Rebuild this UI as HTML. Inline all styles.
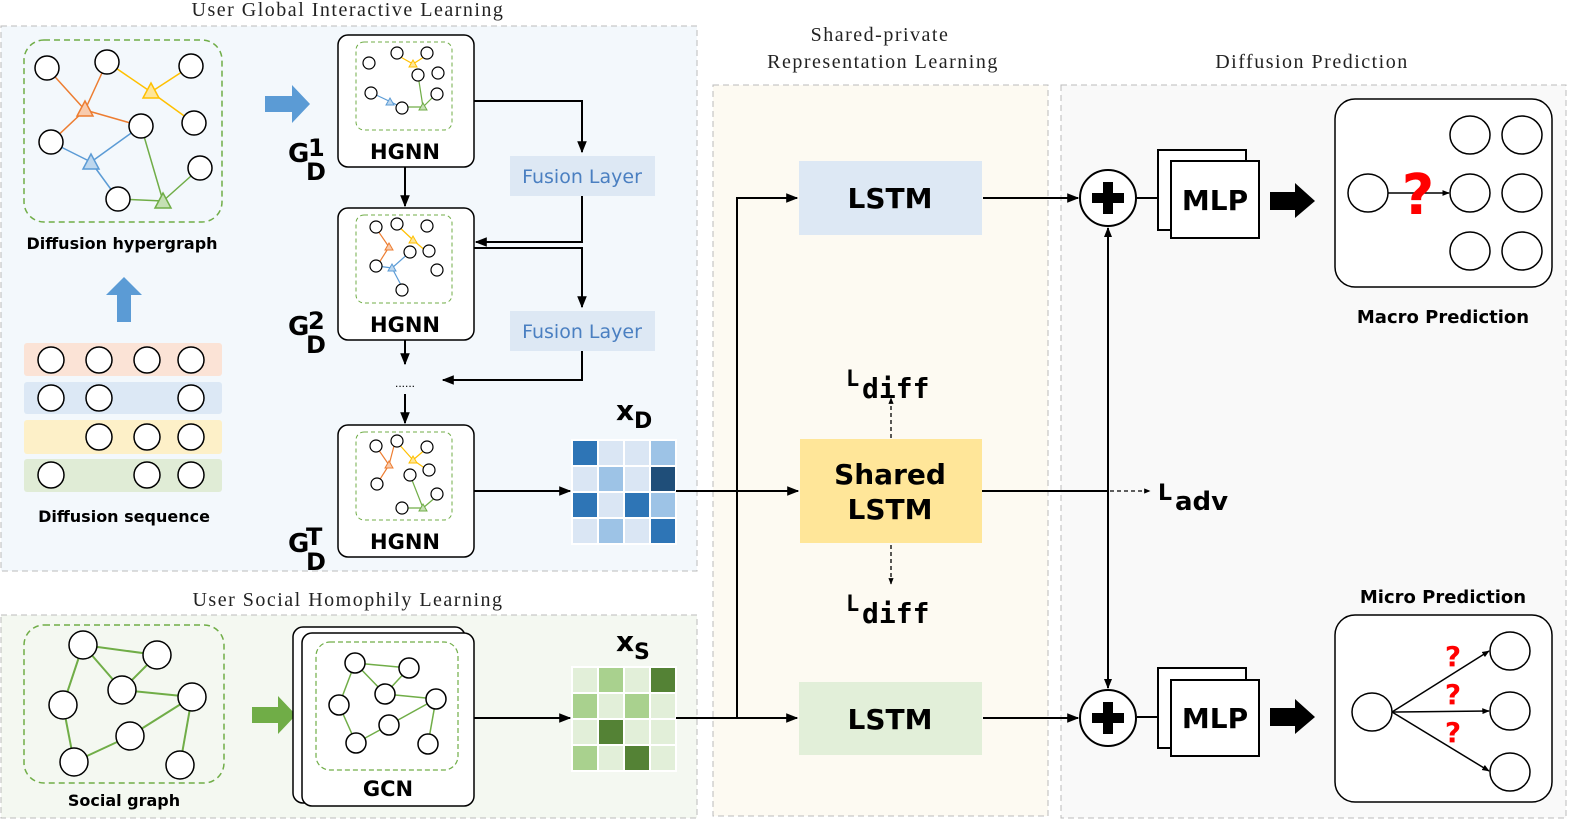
<!DOCTYPE html>
<html><head><meta charset="utf-8"><style>
html,body{margin:0;padding:0;background:#fff;}
svg{display:block;}
.t{font-family:"Liberation Serif",serif;font-size:20px;letter-spacing:1.5px;fill:#222;}
.b{font-family:"DejaVu Sans","Liberation Sans",sans-serif;font-weight:bold;fill:#000;}
.n{fill:#fff;stroke:#000;stroke-width:1.5;}
</style></head><body>
<svg width="1572" height="823" viewBox="0 0 1572 823" xmlns="http://www.w3.org/2000/svg">
<defs>
<marker id="a" viewBox="0 0 10 10" refX="9" refY="5" markerWidth="6" markerHeight="6" orient="auto"><path d="M0,1 L10,5 L0,9 z" fill="#000"/></marker>
<marker id="s" viewBox="0 0 10 10" refX="9" refY="5" markerWidth="5" markerHeight="5" orient="auto-start-reverse"><path d="M0,1 L10,5 L0,9 z" fill="#000"/></marker>
</defs>
<rect x="1" y="26" width="696" height="545" fill="#f3f8fc" stroke="#bbb" stroke-dasharray="6,4"/>
<rect x="1" y="615" width="696" height="203" fill="#f4f8f1" stroke="#bbb" stroke-dasharray="6,4"/>
<rect x="713" y="85" width="335" height="731" fill="#fdfaf2" stroke="#bbb" stroke-dasharray="6,4"/>
<rect x="1061" y="85" width="505" height="733" fill="#f9f9f9" stroke="#bbb" stroke-dasharray="6,4"/>
<text class="t" x="348" y="16" text-anchor="middle">User Global Interactive Learning</text>
<text class="t" x="348" y="606" text-anchor="middle">User Social Homophily Learning</text>
<text class="t" x="880" y="41" text-anchor="middle">Shared-private</text>
<text class="t" x="883" y="68" text-anchor="middle">Representation Learning</text>
<text class="t" x="1312" y="68" text-anchor="middle">Diffusion Prediction</text>

<rect x="24" y="40" width="198" height="182" rx="20" fill="none" stroke="#70ad47" stroke-width="1.5" stroke-dasharray="6,4"/>
<g stroke-width="1.5">
<g stroke="#ed7d31"><line x1="85" y1="110" x2="47" y2="68"/><line x1="85" y1="110" x2="107" y2="62"/><line x1="85" y1="110" x2="51" y2="142"/><line x1="85" y1="110" x2="141" y2="126"/></g>
<g stroke="#ffc000"><line x1="151" y1="92" x2="107" y2="62"/><line x1="151" y1="92" x2="191" y2="66"/><line x1="151" y1="92" x2="194" y2="123"/></g>
<g stroke="#5b9bd5"><line x1="91" y1="162" x2="51" y2="142"/><line x1="91" y1="162" x2="141" y2="126"/><line x1="91" y1="162" x2="118" y2="199"/></g>
<g stroke="#70ad47"><line x1="163" y1="201" x2="118" y2="199"/><line x1="163" y1="201" x2="200" y2="168"/><line x1="163" y1="201" x2="141" y2="126"/></g>
</g>
<polygon points="85,101 93,116 77,116" fill="#f8cbad" stroke="#ed7d31" stroke-width="1.5"/>
<polygon points="151,83 159,98 143,98" fill="#ffe699" stroke="#ffc000" stroke-width="1.5"/>
<polygon points="91,154 99,169 83,169" fill="#bdd7ee" stroke="#5b9bd5" stroke-width="1.5"/>
<polygon points="163,193 171,208 155,208" fill="#c5e0b4" stroke="#70ad47" stroke-width="1.5"/>
<g class="n"><circle cx="47" cy="68" r="12"/><circle cx="107" cy="62" r="12"/><circle cx="191" cy="66" r="12"/><circle cx="194" cy="123" r="12"/><circle cx="51" cy="142" r="12"/><circle cx="141" cy="126" r="12"/><circle cx="200" cy="168" r="12"/><circle cx="118" cy="199" r="12"/></g>
<text class="b" x="122" y="249" font-size="16" text-anchor="middle">Diffusion hypergraph</text>
<polygon points="124,277 142,295 131,295 131,322 117,322 117,295 106,295" fill="#5b9bd5"/>
<rect x="24" y="343" width="198" height="33" rx="3" fill="#fbe3d6"/>
<rect x="24" y="382" width="198" height="32" rx="3" fill="#dce8f5"/>
<rect x="24" y="420" width="198" height="34" rx="3" fill="#fdf0c8"/>
<rect x="24" y="459" width="198" height="33" rx="3" fill="#e0ecd6"/>
<g class="n">
<circle cx="51" cy="360" r="13"/><circle cx="99" cy="360" r="13"/><circle cx="147" cy="360" r="13"/><circle cx="191" cy="360" r="13"/>
<circle cx="51" cy="398" r="13"/><circle cx="99" cy="398" r="13"/><circle cx="191" cy="398" r="13"/>
<circle cx="99" cy="437" r="13"/><circle cx="147" cy="437" r="13"/><circle cx="191" cy="437" r="13"/>
<circle cx="51" cy="475" r="13"/><circle cx="147" cy="475" r="13"/><circle cx="191" cy="475" r="13"/>
</g>
<text class="b" x="124" y="522" font-size="16" text-anchor="middle">Diffusion sequence</text>
<polygon points="265,96 292,96 292,85 310,104 292,123 292,112 265,112" fill="#5b9bd5"/>

<rect x="338" y="35" width="136" height="132" rx="10" fill="#fff" stroke="#000" stroke-width="1.5"/>
<rect x="356" y="42" width="96" height="88" rx="8" fill="none" stroke="#70ad47" stroke-dasharray="4,3"/>
<g stroke-width="1.2">
<line x1="397" y1="55" x2="413" y2="64" stroke="#ffc000"/><line x1="427" y1="55" x2="413" y2="64" stroke="#ffc000"/>
<line x1="372" y1="93" x2="391" y2="102" stroke="#5b9bd5"/><line x1="391" y1="102" x2="401" y2="107" stroke="#5b9bd5"/>
<line x1="401" y1="107" x2="423" y2="107" stroke="#70ad47"/><line x1="423" y1="107" x2="436" y2="94" stroke="#70ad47"/><line x1="423" y1="107" x2="418" y2="75" stroke="#70ad47"/>
</g>
<polygon points="413,60 417,67 409,67" fill="#ffe699" stroke="#ffc000"/>
<polygon points="390,98 394,105 386,105" fill="#bdd7ee" stroke="#5b9bd5"/>
<polygon points="423,103 427,110 419,110" fill="#c5e0b4" stroke="#70ad47"/>
<g class="n" style="stroke-width:1.2"><circle cx="369" cy="63" r="6"/><circle cx="397" cy="53" r="6"/><circle cx="427" cy="53" r="6"/><circle cx="418" cy="75" r="6"/><circle cx="438" cy="73" r="6"/><circle cx="371" cy="93" r="6"/><circle cx="437" cy="94" r="6"/><circle cx="402" cy="108" r="6"/></g>
<text class="b" x="405" y="159" font-size="21" text-anchor="middle">HGNN</text>

<rect x="338" y="208" width="136" height="132" rx="10" fill="#fff" stroke="#000" stroke-width="1.5"/>
<rect x="356" y="215" width="96" height="88" rx="8" fill="none" stroke="#70ad47" stroke-dasharray="4,3"/>
<g stroke-width="1.2">
<line x1="376" y1="228" x2="389" y2="247" stroke="#ed7d31"/><line x1="389" y1="247" x2="377" y2="266" stroke="#ed7d31"/>
<line x1="397" y1="225" x2="413" y2="240" stroke="#ffc000"/><line x1="413" y1="240" x2="427" y2="252" stroke="#ffc000"/>
<line x1="377" y1="266" x2="392" y2="268" stroke="#5b9bd5"/><line x1="392" y1="268" x2="410" y2="252" stroke="#5b9bd5"/><line x1="392" y1="268" x2="401" y2="285" stroke="#5b9bd5"/>
</g>
<polygon points="389,243 393,250 385,250" fill="#f8cbad" stroke="#ed7d31"/>
<polygon points="413,236 417,243 409,243" fill="#ffe699" stroke="#ffc000"/>
<polygon points="392,264 396,271 388,271" fill="#bdd7ee" stroke="#5b9bd5"/>
<g class="n" style="stroke-width:1.2"><circle cx="376" cy="227" r="6"/><circle cx="397" cy="224" r="6"/><circle cx="427" cy="226" r="6"/><circle cx="429" cy="251" r="6"/><circle cx="410" cy="252" r="6"/><circle cx="437" cy="270" r="6"/><circle cx="376" cy="266" r="6"/><circle cx="402" cy="290" r="6"/></g>
<text class="b" x="405" y="332" font-size="21" text-anchor="middle">HGNN</text>

<rect x="338" y="425" width="136" height="132" rx="10" fill="#fff" stroke="#000" stroke-width="1.5"/>
<rect x="356" y="432" width="96" height="88" rx="8" fill="none" stroke="#70ad47" stroke-dasharray="4,3"/>
<g stroke-width="1.2">
<line x1="376" y1="446" x2="389" y2="465" stroke="#ed7d31"/><line x1="389" y1="465" x2="377" y2="484" stroke="#ed7d31"/><line x1="389" y1="465" x2="395" y2="442" stroke="#ed7d31"/>
<line x1="397" y1="442" x2="413" y2="460" stroke="#ffc000"/><line x1="427" y1="448" x2="413" y2="460" stroke="#ffc000"/><line x1="413" y1="460" x2="429" y2="471" stroke="#ffc000"/>
<line x1="402" y1="508" x2="423" y2="508" stroke="#70ad47"/><line x1="423" y1="508" x2="437" y2="496" stroke="#70ad47"/><line x1="423" y1="508" x2="410" y2="475" stroke="#70ad47"/>
</g>
<polygon points="389,461 393,468 385,468" fill="#f8cbad" stroke="#ed7d31"/>
<polygon points="413,456 417,463 409,463" fill="#ffe699" stroke="#ffc000"/>
<polygon points="423,504 427,511 419,511" fill="#c5e0b4" stroke="#70ad47"/>
<g class="n" style="stroke-width:1.2"><circle cx="376" cy="446" r="6"/><circle cx="397" cy="441" r="6"/><circle cx="427" cy="447" r="6"/><circle cx="429" cy="470" r="6"/><circle cx="410" cy="475" r="6"/><circle cx="437" cy="494" r="6"/><circle cx="377" cy="484" r="6"/><circle cx="402" cy="508" r="6"/></g>
<text class="b" x="405" y="549" font-size="21" text-anchor="middle">HGNN</text>

<g font-family="DejaVu Sans,sans-serif" font-weight="bold" fill="#000">
<text x="288" y="162" font-size="26">G</text><text x="306" y="180" font-size="24">D</text><text x="308" y="156" font-size="24">1</text>
<text x="288" y="335" font-size="26">G</text><text x="306" y="353" font-size="24">D</text><text x="308" y="329" font-size="24">2</text>
<text x="288" y="552" font-size="26">G</text><text x="306" y="570" font-size="24">D</text><text x="306" y="545" font-size="24">T</text>
</g>

<g stroke="#000" stroke-width="2" fill="none">
<polyline points="474,101 582,101 582,152" marker-end="url(#a)"/>
<polyline points="582,196 582,242 476,242" marker-end="url(#a)"/>
<polyline points="474,248 582,248 582,307" marker-end="url(#a)"/>
<polyline points="582,351 582,380 443,380" marker-end="url(#a)"/>
<line x1="405" y1="167" x2="405" y2="206" marker-end="url(#a)"/>
<line x1="405" y1="340" x2="405" y2="364" marker-end="url(#a)"/>
<line x1="405" y1="394" x2="405" y2="423" marker-end="url(#a)"/>
<line x1="474" y1="491" x2="570" y2="491" marker-end="url(#a)"/>
<line x1="474" y1="718" x2="570" y2="718" marker-end="url(#a)"/>
</g>
<text x="405" y="387" font-size="12" text-anchor="middle" font-family="Liberation Sans">......</text>
<rect x="510" y="156" width="145" height="40" fill="#dde8f4"/>
<text x="582" y="183" font-size="19" text-anchor="middle" fill="#4a7fc1" font-family="DejaVu Sans,sans-serif">Fusion Layer</text>
<rect x="510" y="311" width="145" height="40" fill="#dde8f4"/>
<text x="582" y="338" font-size="19" text-anchor="middle" fill="#4a7fc1" font-family="DejaVu Sans,sans-serif">Fusion Layer</text>

<g stroke="#fff" stroke-width="2">
<rect x="572" y="440" width="26" height="26" fill="#2e75b6"/><rect x="598" y="440" width="26" height="26" fill="#dae6f4"/><rect x="624" y="440" width="26" height="26" fill="#dae6f4"/><rect x="650" y="440" width="26" height="26" fill="#9dc3e6"/>
<rect x="572" y="466" width="26" height="26" fill="#dae6f4"/><rect x="598" y="466" width="26" height="26" fill="#9dc3e6"/><rect x="624" y="466" width="26" height="26" fill="#dae6f4"/><rect x="650" y="466" width="26" height="26" fill="#1f4e79"/>
<rect x="572" y="492" width="26" height="26" fill="#2e75b6"/><rect x="598" y="492" width="26" height="26" fill="#dae6f4"/><rect x="624" y="492" width="26" height="26" fill="#2e75b6"/><rect x="650" y="492" width="26" height="26" fill="#9dc3e6"/>
<rect x="572" y="518" width="26" height="26" fill="#dae6f4"/><rect x="598" y="518" width="26" height="26" fill="#9dc3e6"/><rect x="624" y="518" width="26" height="26" fill="#dae6f4"/><rect x="650" y="518" width="26" height="26" fill="#2e75b6"/>
</g>
<g font-family="DejaVu Sans,sans-serif" font-weight="bold">
<text x="616" y="420" font-size="28">x</text><text x="634" y="428" font-size="22">D</text>
<text x="616" y="651" font-size="28">x</text><text x="634" y="659" font-size="22">S</text>
</g>

<rect x="24" y="625" width="200" height="158" rx="20" fill="none" stroke="#70ad47" stroke-width="1.5" stroke-dasharray="6,4"/>
<g stroke="#70ad47" stroke-width="2">
<line x1="83" y1="645" x2="157" y2="655"/><line x1="83" y1="645" x2="122" y2="690"/><line x1="83" y1="645" x2="63" y2="705"/><line x1="157" y1="655" x2="122" y2="690"/><line x1="122" y1="690" x2="192" y2="697"/><line x1="63" y1="705" x2="74" y2="762"/><line x1="74" y1="762" x2="130" y2="736"/><line x1="130" y1="736" x2="192" y2="697"/><line x1="192" y1="697" x2="180" y2="765"/>
</g>
<g class="n"><circle cx="83" cy="645" r="14"/><circle cx="157" cy="655" r="14"/><circle cx="122" cy="690" r="14"/><circle cx="63" cy="705" r="14"/><circle cx="192" cy="697" r="14"/><circle cx="130" cy="736" r="14"/><circle cx="74" cy="762" r="14"/><circle cx="180" cy="765" r="14"/></g>
<text class="b" x="124" y="806" font-size="16" text-anchor="middle">Social graph</text>
<polygon points="252,707 278,707 278,696 296,715 278,734 278,723 252,723" fill="#70ad47"/>
<rect x="293" y="627" width="172" height="176" rx="10" fill="#fff" stroke="#000" stroke-width="1.5"/>
<rect x="302" y="633" width="172" height="173" rx="10" fill="#fff" stroke="#000" stroke-width="1.5"/>
<rect x="316" y="642" width="142" height="128" rx="14" fill="none" stroke="#70ad47" stroke-width="1.2" stroke-dasharray="5,3"/>
<g stroke="#70ad47" stroke-width="1.5">
<line x1="355" y1="663" x2="409" y2="668"/><line x1="355" y1="663" x2="385" y2="694"/><line x1="355" y1="663" x2="339" y2="705"/><line x1="409" y1="668" x2="385" y2="694"/><line x1="385" y1="694" x2="436" y2="699"/><line x1="339" y1="705" x2="356" y2="743"/><line x1="356" y1="743" x2="389" y2="725"/><line x1="389" y1="725" x2="436" y2="699"/><line x1="436" y1="699" x2="428" y2="744"/>
</g>
<g class="n"><circle cx="355" cy="663" r="10"/><circle cx="409" cy="668" r="10"/><circle cx="385" cy="694" r="10"/><circle cx="339" cy="705" r="10"/><circle cx="436" cy="699" r="10"/><circle cx="389" cy="725" r="10"/><circle cx="356" cy="743" r="10"/><circle cx="428" cy="744" r="10"/></g>
<text class="b" x="388" y="796" font-size="21" text-anchor="middle">GCN</text>

<g stroke="#fff" stroke-width="2">
<rect x="572" y="667" width="26" height="26" fill="#e2efd9"/><rect x="598" y="667" width="26" height="26" fill="#a9d18e"/><rect x="624" y="667" width="26" height="26" fill="#e2efd9"/><rect x="650" y="667" width="26" height="26" fill="#548235"/>
<rect x="572" y="693" width="26" height="26" fill="#a9d18e"/><rect x="598" y="693" width="26" height="26" fill="#e2efd9"/><rect x="624" y="693" width="26" height="26" fill="#a9d18e"/><rect x="650" y="693" width="26" height="26" fill="#e2efd9"/>
<rect x="572" y="719" width="26" height="26" fill="#e2efd9"/><rect x="598" y="719" width="26" height="26" fill="#548235"/><rect x="624" y="719" width="26" height="26" fill="#e2efd9"/><rect x="650" y="719" width="26" height="26" fill="#e2efd9"/>
<rect x="572" y="745" width="26" height="26" fill="#a9d18e"/><rect x="598" y="745" width="26" height="26" fill="#e2efd9"/><rect x="624" y="745" width="26" height="26" fill="#548235"/><rect x="650" y="745" width="26" height="26" fill="#e2efd9"/>
</g>

<rect x="799" y="161" width="183" height="74" fill="#dde8f4"/>
<text class="b" x="890" y="208" font-size="28" text-anchor="middle">LSTM</text>
<rect x="800" y="439" width="182" height="104" fill="#ffe699"/>
<text class="b" x="890" y="484" font-size="28" text-anchor="middle">Shared</text>
<text class="b" x="890" y="519" font-size="28" text-anchor="middle">LSTM</text>
<rect x="799" y="682" width="183" height="73" fill="#e2efd9"/>
<text class="b" x="890" y="729" font-size="28" text-anchor="middle">LSTM</text>
<g stroke="#000" stroke-width="2" fill="none">
<line x1="676" y1="491" x2="798" y2="491" marker-end="url(#a)"/>
<line x1="676" y1="718" x2="797" y2="718" marker-end="url(#a)"/>
<polyline points="737,718 737,198 797,198" marker-end="url(#a)"/>
<line x1="983" y1="198" x2="1078" y2="198" marker-end="url(#a)"/>
<line x1="983" y1="718" x2="1078" y2="718" marker-end="url(#a)"/>
<line x1="982" y1="491" x2="1108" y2="491"/>
<line x1="1108" y1="228" x2="1108" y2="688" marker-start="url(#s)" marker-end="url(#s)"/>
<line x1="1137" y1="198" x2="1170" y2="198" marker-end="url(#s)"/>
<line x1="1137" y1="717" x2="1170" y2="717" marker-end="url(#s)"/>
</g>
<g stroke="#000" stroke-width="1.3" stroke-dasharray="4,3" fill="none">
<line x1="891" y1="438" x2="891" y2="398" marker-end="url(#s)"/>
<line x1="891" y1="545" x2="891" y2="584" marker-end="url(#s)"/>
<line x1="1110" y1="491" x2="1150" y2="491" marker-end="url(#s)"/>
</g>
<g font-family="DejaVu Sans Mono,Liberation Mono,monospace" font-weight="bold" fill="#000">
<text x="846" y="386" font-size="22">L</text><text x="862" y="398" font-size="28">diff</text>
<text x="846" y="611" font-size="22">L</text><text x="862" y="623" font-size="28">diff</text>
</g>
<g font-family="DejaVu Sans,sans-serif" font-weight="bold" fill="#000">
<text x="1158" y="500" font-size="22">L</text><text x="1175" y="510" font-size="26">adv</text>
</g>
<ellipse cx="1108" cy="198" rx="28" ry="28" fill="#fff" stroke="#000" stroke-width="2"/>
<rect x="1092" y="193" width="32" height="10" fill="#000"/><rect x="1103" y="182" width="10" height="32" fill="#000"/>
<ellipse cx="1108" cy="718" rx="28" ry="28" fill="#fff" stroke="#000" stroke-width="2"/>
<rect x="1092" y="713" width="32" height="10" fill="#000"/><rect x="1103" y="702" width="10" height="32" fill="#000"/>
<rect x="1158" y="150" width="88" height="80" fill="#fff" stroke="#000" stroke-width="2"/>
<rect x="1171" y="161" width="88" height="77" fill="#fff" stroke="#000" stroke-width="2"/>
<text class="b" x="1215" y="210" font-size="28" text-anchor="middle">MLP</text>
<rect x="1158" y="668" width="88" height="80" fill="#fff" stroke="#000" stroke-width="2"/>
<rect x="1171" y="680" width="88" height="76" fill="#fff" stroke="#000" stroke-width="2"/>
<text class="b" x="1215" y="728" font-size="28" text-anchor="middle">MLP</text>
<polygon points="1270,192 1295,192 1295,183 1315,201 1295,218 1295,210 1270,210" fill="#000"/>
<polygon points="1270,708 1295,708 1295,699 1315,717 1295,734 1295,726 1270,726" fill="#000"/>
<rect x="1335" y="99" width="217" height="188" rx="20" fill="#fff" stroke="#000" stroke-width="1.5"/>
<g class="n"><ellipse cx="1368" cy="193" rx="20" ry="19"/><ellipse cx="1470" cy="135" rx="20" ry="19"/><ellipse cx="1522" cy="135" rx="20" ry="19"/><ellipse cx="1470" cy="193" rx="20" ry="19"/><ellipse cx="1522" cy="193" rx="20" ry="19"/><ellipse cx="1470" cy="251" rx="20" ry="19"/><ellipse cx="1522" cy="251" rx="20" ry="19"/></g>
<line x1="1388" y1="193" x2="1449" y2="193" stroke="#000" stroke-width="1.5" marker-end="url(#s)"/>
<text x="1418" y="214" font-size="56" font-weight="bold" fill="#ff0000" text-anchor="middle" font-family="DejaVu Sans,sans-serif">?</text>
<text class="b" x="1443" y="323" font-size="18" text-anchor="middle">Macro Prediction</text>
<text class="b" x="1443" y="603" font-size="18" text-anchor="middle">Micro Prediction</text>
<rect x="1335" y="615" width="217" height="187" rx="20" fill="#fff" stroke="#000" stroke-width="1.5"/>
<g stroke="#000" stroke-width="1.5">
<line x1="1392" y1="712" x2="1489" y2="651" marker-end="url(#s)"/>
<line x1="1392" y1="712" x2="1489" y2="711" marker-end="url(#s)"/>
<line x1="1392" y1="712" x2="1489" y2="771" marker-end="url(#s)"/>
</g>
<g class="n"><ellipse cx="1372" cy="712" rx="20" ry="19"/><ellipse cx="1510" cy="651" rx="20" ry="19"/><ellipse cx="1510" cy="711" rx="20" ry="19"/><ellipse cx="1510" cy="772" rx="20" ry="19"/></g>
<g font-family="DejaVu Sans,sans-serif" font-weight="bold" font-size="28" fill="#ff0000" text-anchor="middle">
<text x="1453" y="666">?</text><text x="1453" y="704">?</text><text x="1453" y="742">?</text>
</g>
</svg>
</body></html>
